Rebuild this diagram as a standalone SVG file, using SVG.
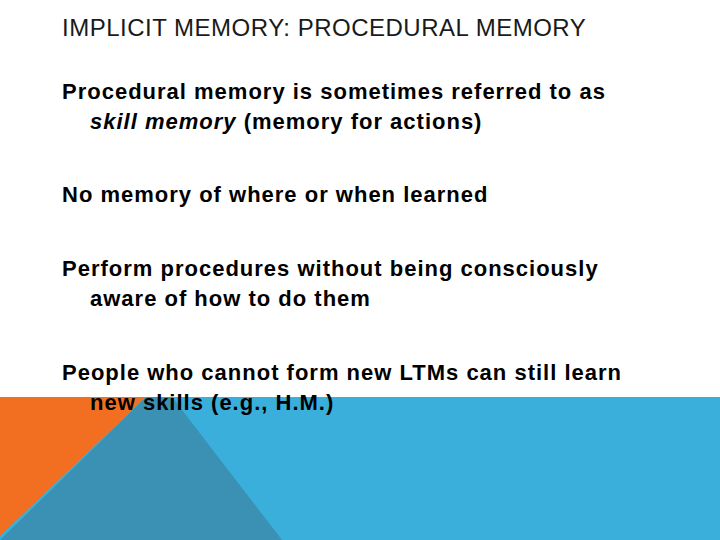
<svg xmlns="http://www.w3.org/2000/svg" width="720" height="540" viewBox="0 0 720 540">
<style>
.t{font-family:"Liberation Sans",Arial,sans-serif;font-size:24px;letter-spacing:0.5px;fill:#1a1a1a}
.b{font-family:"Liberation Sans",Arial,sans-serif;font-size:22px;letter-spacing:1px;font-weight:bold;fill:#000}
</style>
<rect width="720" height="540" fill="#fff"/>
<rect x="0" y="397" width="720" height="143" fill="#3AAFDC"/>
<polygon points="0,397 146,397 0,536" fill="#F26F21"/>
<polygon points="0,540 146,397 172,397 282,540" fill="#3A91B4"/>
<text class="t" x="62" y="36">IMPLICIT MEMORY: PROCEDURAL MEMORY</text>
<text class="b" x="62" y="99">Procedural memory is sometimes referred to as</text>
<text class="b" x="90" y="129"><tspan font-style="italic">skill memory</tspan> (memory for actions)</text>
<text class="b" x="62" y="202">No memory of where or when learned</text>
<text class="b" x="62" y="276">Perform procedures without being consciously</text>
<text class="b" x="90" y="306">aware of how to do them</text>
<text class="b" x="62" y="380">People who cannot form new LTMs can still learn</text>
<text class="b" x="90" y="410">new skills (e.g., H.M.)</text>
</svg>
